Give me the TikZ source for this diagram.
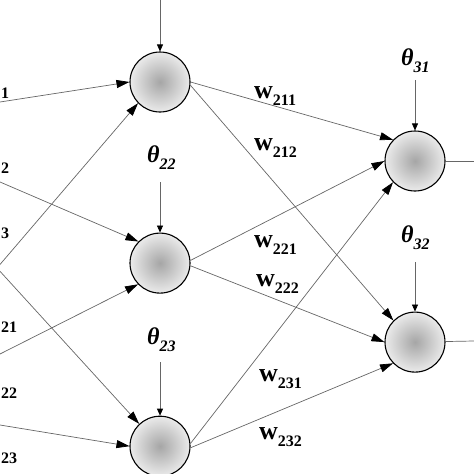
\documentclass[tikz,border=0pt]{standalone}
\usepackage{fontspec}
\setmainfont{Liberation Serif}
\usetikzlibrary{arrows.meta, positioning}

\newcommand{\wsub}[1]{\raisebox{-7pt}{\fontsize{16}{16}\selectfont #1}}
\newcommand{\tsub}[1]{\raisebox{-7.5pt}{\fontsize{16}{16}\selectfont #1}}

\begin{document}
\begin{tikzpicture}[
  x=1pt, y=-1pt,
  neuron/.style={circle, draw, line width=1.1pt, minimum size=60pt, inner sep=0pt,
                 shading=radial, inner color=black!35, outer color=black!8},
  conn/.style={-{Triangle[length=13pt, width=8pt, color=black]}, draw=black!60, line width=0.7pt},
  bias/.style={-{Triangle[length=7pt, width=6pt, color=black]}, draw=black!60, line width=0.7pt},
  outl/.style={draw=black!60, line width=0.7pt},
  wlab/.style={anchor=base west, inner sep=0pt, font=\fontsize{26}{26}\selectfont\bfseries},
  thlab/.style={anchor=base west, inner sep=0pt, font=\fontsize{24}{24}\selectfont\bfseries\itshape},
  sublab/.style={anchor=base west, inner sep=0pt, font=\fontsize{16}{16}\selectfont\bfseries},
  node distance=120pt
]
  \useasboundingbox (0,0) rectangle (474,474);

  % Hidden layer
  \node[neuron] (h1) at (160,82) {};
  \node[neuron, below=of h1] (h2) {};
  \node[neuron, below=122pt of h2] (h3) {};

  % Output layer
  \node[neuron] (o1) at (415,161) {};
  \node[neuron, below=of o1] (o2) {};

  % Free ends
  \coordinate (x1) at (0,102);
  \coordinate (x2) at (0,182);
  \coordinate (x3) at (-3,268);
  \coordinate (x4) at (0,354);
  \coordinate (x5) at (0,425);
  \coordinate (b21) at (160,0);
  \coordinate (b22) at (160,182);
  \coordinate (b23) at (160,362);
  \coordinate (b31) at (415,80);
  \coordinate (b32) at (415,262);
  \coordinate (y1) at (474,161);
  \coordinate (y2) at (474,341);

  % Inputs into hidden layer
  \draw[conn] (x1) -- (h1.180);
  \draw[conn] (x3) -- (h1.224);
  \draw[conn] (x2) -- (h2.135);
  \draw[conn] (x4) -- (h2.224);
  \draw[conn] (x3) -- (h3.133);
  \draw[conn] (x5) -- (h3.180);

  % Hidden to output
  \draw[conn] (h1.0)  -- (o1.136);
  \draw[conn] (h1.-6) -- (o2.135);
  \draw[conn] (h2.5)  -- (o1.180);
  \draw[conn] (h2.-5) -- (o2.180);
  \draw[conn] (h3.5)  -- (o1.224);
  \draw[conn] (h3.-3) -- (o2.224);

  % Outputs
  \draw[outl] (o1) -- (y1);
  \draw[outl] (o2) -- (y2);

  % Thresholds
  \draw[bias] (b21) -- (h1);
  \draw[bias] (b22) -- (h2);
  \draw[bias] (b23) -- (h3);
  \draw[bias] (b31) -- (o1);
  \draw[bias] (b32) -- (o2);

  \node[thlab] (t22) at (147,162) {θ\tsub{22}};
  \node[thlab] (t23) at (147,344) {θ\tsub{23}};
  \node[thlab] (t31) at (401,65)  {θ\tsub{31}};
  \node[thlab] (t32) at (401,242) {θ\tsub{32}};

  % Weights
  \node[wlab] (w211) at (254,98)  {w\wsub{211}};
  \node[wlab] (w212) at (254,150) {w\wsub{212}};
  \node[wlab] (w221) at (254,247) {w\wsub{221}};
  \node[wlab] (w222) at (256,286) {w\wsub{222}};
  \node[wlab] (w231) at (259,381) {w\wsub{231}};
  \node[wlab] (w232) at (259,439) {w\wsub{232}};

  % Cut-off input weights
  \node[sublab] (s1)  at (1,98)  {1};
  \node[sublab] (s2)  at (1,173) {2};
  \node[sublab] (s3)  at (1,238) {3};
  \node[sublab] (s21) at (1,332) {21};
  \node[sublab] (s22) at (1,398) {22};
  \node[sublab] (s23) at (1,463) {23};
\end{tikzpicture}
\end{document}
